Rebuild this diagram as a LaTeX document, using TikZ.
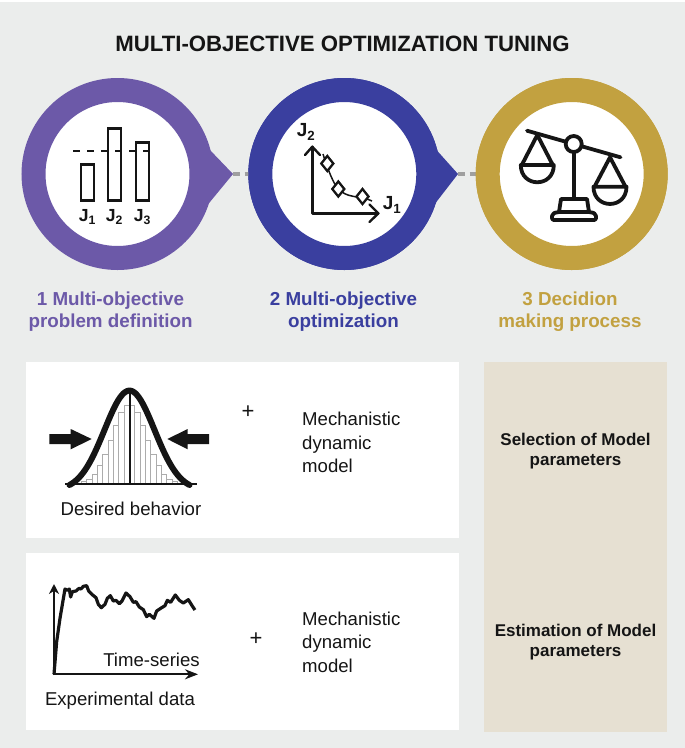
\documentclass[tikz,border=0pt]{standalone}
\usepackage{fontspec}
\setmainfont{Liberation Sans}
\usetikzlibrary{positioning,arrows.meta,calc,shapes.geometric}
\definecolor{pagebg}{HTML}{EBEDEC}
\definecolor{beige}{HTML}{E6E0D2}
\definecolor{purp}{HTML}{6C59A8}
\definecolor{indigo}{HTML}{3A3F9F}
\definecolor{gold}{HTML}{C2A140}
\definecolor{inkk}{HTML}{151515}
\tikzset{
  ring/.style={circle, draw=#1, line width=24pt, fill=white, minimum size=168pt, inner sep=0pt, outer sep=0pt},
  panel/.style={fill=white, inner sep=0pt, outer sep=0pt, minimum width=433pt},
  capt/.style={align=center, font=\fontsize{18.8}{22.5}\selectfont\bfseries, text=#1, inner sep=0pt},
  body/.style={align=left, font=\fontsize{18.6}{23.5}\selectfont, text=inkk, inner sep=0pt},
  side/.style={align=center, font=\fontsize{17}{20.5}\selectfont\bfseries, text=inkk, inner sep=0pt},
  jlab/.style={font=\fontsize{#1}{#1}\selectfont\bfseries, text=inkk, inner sep=0pt},
  link/.style={draw=gray!75, line width=4pt, dash pattern=on 7pt off 4.5pt},
  hbar/.style={draw=gray!65, line width=0.9pt},
  pareto/.style={diamond, draw=inkk, fill=white, line width=2.3pt, minimum width=13pt, minimum height=16pt, inner sep=0pt},
  icon/.style={draw=inkk, line width=#1, line cap=round, line join=round},
}
\begin{document}
\begin{tikzpicture}[x=1pt,y=-1pt]
    \useasboundingbox (0,0) rectangle (685,748);
    \fill[pagebg] (0,2) rectangle (685,748);
    \node[font=\fontsize{22.2}{24}\selectfont\bfseries, text=inkk, inner sep=0pt] (title) at (342.5,44) {MULTI-OBJECTIVE OPTIMIZATION TUNING};

    \node[ring=purp] (circA) at (117.5,174) {};
    \node[ring=indigo, right=58.8pt of circA] (circB) {};
    \node[ring=gold, right=59.4pt of circB] (circC) {};
    \coordinate (tipA) at (233,174);
    \coordinate (tipB) at (458,174);
    \draw[link] (tipA) -- (circB);
    \draw[link] (tipB) -- (circC);
    \fill[purp] (209,149) -- (tipA) -- (205,208) -- cycle;
    \fill[indigo] (436.5,150) -- (tipB) -- (434,205) -- cycle;
    \node[ring=indigo] at (circB) {};
    \node[ring=gold] at (circC) {};

    \node[capt=purp] (capA) at (110.5,311.5) {1 Multi-objective\\problem definition};
    \node[capt=indigo] (capB) at (343.5,311.5) {2 Multi-objective\\optimization};
    \node[capt=gold] (capC) at (570,311.5) {3 Decidion\\making process};

    % bars
    \foreach \xa/\ya/\nm in {81/164.5/1,108/128.5/2,136/142.5/3} {
      \draw[icon=2.3pt, line join=miter] (\xa,200.5) rectangle (\xa+13.3,\ya);
      \node[jlab=17.5] (lab\nm) at (\xa+6.5,217) {J\textsubscript{\nm}};
    }
    \draw[inkk, line width=2.3pt, dash pattern=on 7pt off 7pt] (73,150.7) -- (150,150.7);

    % pareto
    \draw[icon=2.4pt] (305,155) -- (312.3,146.7) -- (320,155);
    \draw[icon=2.4pt] (312.3,146.7) -- (312.3,213.3) -- (378.3,213.3);
    \draw[icon=2.4pt] (369.5,204.5) -- (378.3,213.3) -- (369.5,222);
    \draw[inkk, line width=1.5pt] (323,154) .. controls (328,170) and (335,189) .. (342,192) .. controls (350,198) and (362,196) .. (372,201);
    \node[pareto] (ptA) at (327.3,163.5) {};
    \node[pareto] (ptB) at (338.3,189) {};
    \node[pareto] (ptC) at (362.5,196.5) {};
    \node[jlab=19] (labY) at (306,132) {J\textsubscript{2}};
    \node[jlab=19] (labX) at (392,205) {J\textsubscript{1}};

    % scale
    \draw[icon=3.8pt] (527,130.7) -- (620.5,157.3);
    \draw[icon=3.8pt, fill=white] (573.7,144) circle (8);
    \draw[icon=3.8pt] (573.7,152) -- (573.7,199);
    \foreach \apx/\apy/\chd in {537.3/135/165,610/157.3/186.7} {
      \draw[icon=3.8pt] (\apx-15.5,\chd) -- (\apx,\apy) -- (\apx+15.5,\chd);
      \draw[icon=3.8pt] (\apx-16.5,\chd) -- (\apx+16.5,\chd) .. controls (\apx+16.5,\chd+23) and (\apx-16.5,\chd+23) .. cycle;
    }
    \draw[icon=3.8pt] (559,212) -- (561,199) -- (587,199) -- (589,212);
    \draw[icon=3.8pt, rounded corners=2pt] (552,220) -- (552,214) -- (557,212) -- (591,212) -- (596,214) -- (596,220) -- cycle;

    \node[panel, minimum height=176pt] (panelA) at (242.5,450) {};
    \node[panel, minimum height=177pt] (panelB) at (242.5,641.5) {};
    \node[fill=beige, inner sep=0pt, minimum width=183.5pt, minimum height=369.5pt] (panelC) at (575.7,547) {};

    \foreach \i in {-9,...,9} {
      \pgfmathsetmacro{\barh}{80*exp(-((\i*5.33+2.66)*(\i*5.33+2.66))/(2*17*17))}
      \draw[hbar] (129.5+\i*5.33,484) |- (129.5+\i*5.33+5.33,484-\barh) -- (129.5+\i*5.33+5.33,484);
    }
    \draw[inkk, line width=1.5pt] (65,484) -- (197,484);
    \draw[inkk, line width=2pt] (129.5,390) -- (129.5,484);
    \draw[inkk, line width=6pt, line cap=round, line join=round, domain=-60:60, samples=70, smooth] plot ({129.5+\x},{490.6-100*exp(-(\x*\x)/(2*25*25))});
    \fill[inkk] (49.3,434) -- (70.7,434) -- (70.7,429) -- (91.7,439) -- (70.7,449.3) -- (70.7,444) -- (49.3,444) -- cycle;
    \fill[inkk] (209,434) -- (187.7,434) -- (187.7,429) -- (167.3,439) -- (187.7,449.3) -- (187.7,444) -- (209,444) -- cycle;
    \node[body, font=\fontsize{22}{24}\selectfont] (plusA) at (248,412) {+};
    \node[body] (mechA) [anchor=west] at (302,442.5) {Mechanistic\\dynamic\\model};
    \node[body] (desired) at (131,509) {Desired behavior};

    \draw[inkk, line width=2pt, -{Stealth[length=10pt,width=10pt]}] (54,675) -- (54,584);
    \draw[inkk, line width=2pt, -{Stealth[length=13pt,width=10pt]}] (54,674.3) -- (198,674.3);
    \begin{scope}[shift={(30,565)},x=0.3333pt,y=-0.3333pt]
      \draw[inkk, line width=3.2pt, line join=round] (72,328) -- (80,230) -- (90,160) -- (105,72) -- (112,76) -- (118,72) -- (122,96) -- (127,80) -- (138,78) -- (147,70) -- (153,72) -- (160,64) -- (170,62) -- (176,78) -- (188,90) -- (198,98) -- (205,118) -- (214,128) -- (225,118) -- (232,100) -- (241,92) -- (250,108) -- (258,106) -- (268,116) -- (276,108) -- (288,84) -- (300,95) -- (310,112) -- (318,110) -- (328,126) -- (340,134) -- (350,155) -- (358,148) -- (372,160) -- (380,138) -- (392,130) -- (405,122) -- (412,106) -- (422,112) -- (436,90) -- (448,106) -- (460,114) -- (475,104) -- (485,120) -- (495,135);
    \end{scope}
    \node[body] (tseries) at (151.5,660) {Time-series};
    \node[body, font=\fontsize{22}{24}\selectfont] (plusB) at (256,639) {+};
    \node[body] (mechB) [anchor=west] at (302,642) {Mechanistic\\dynamic\\model};
    \node[body] (expdata) at (120,701) {Experimental data};

    \node[side] (selA) at (575.5,451) {Selection of Model\\parameters};
    \node[side] (estA) at (575.5,642) {Estimation of Model\\parameters};
  \end{tikzpicture}
\end{document}
